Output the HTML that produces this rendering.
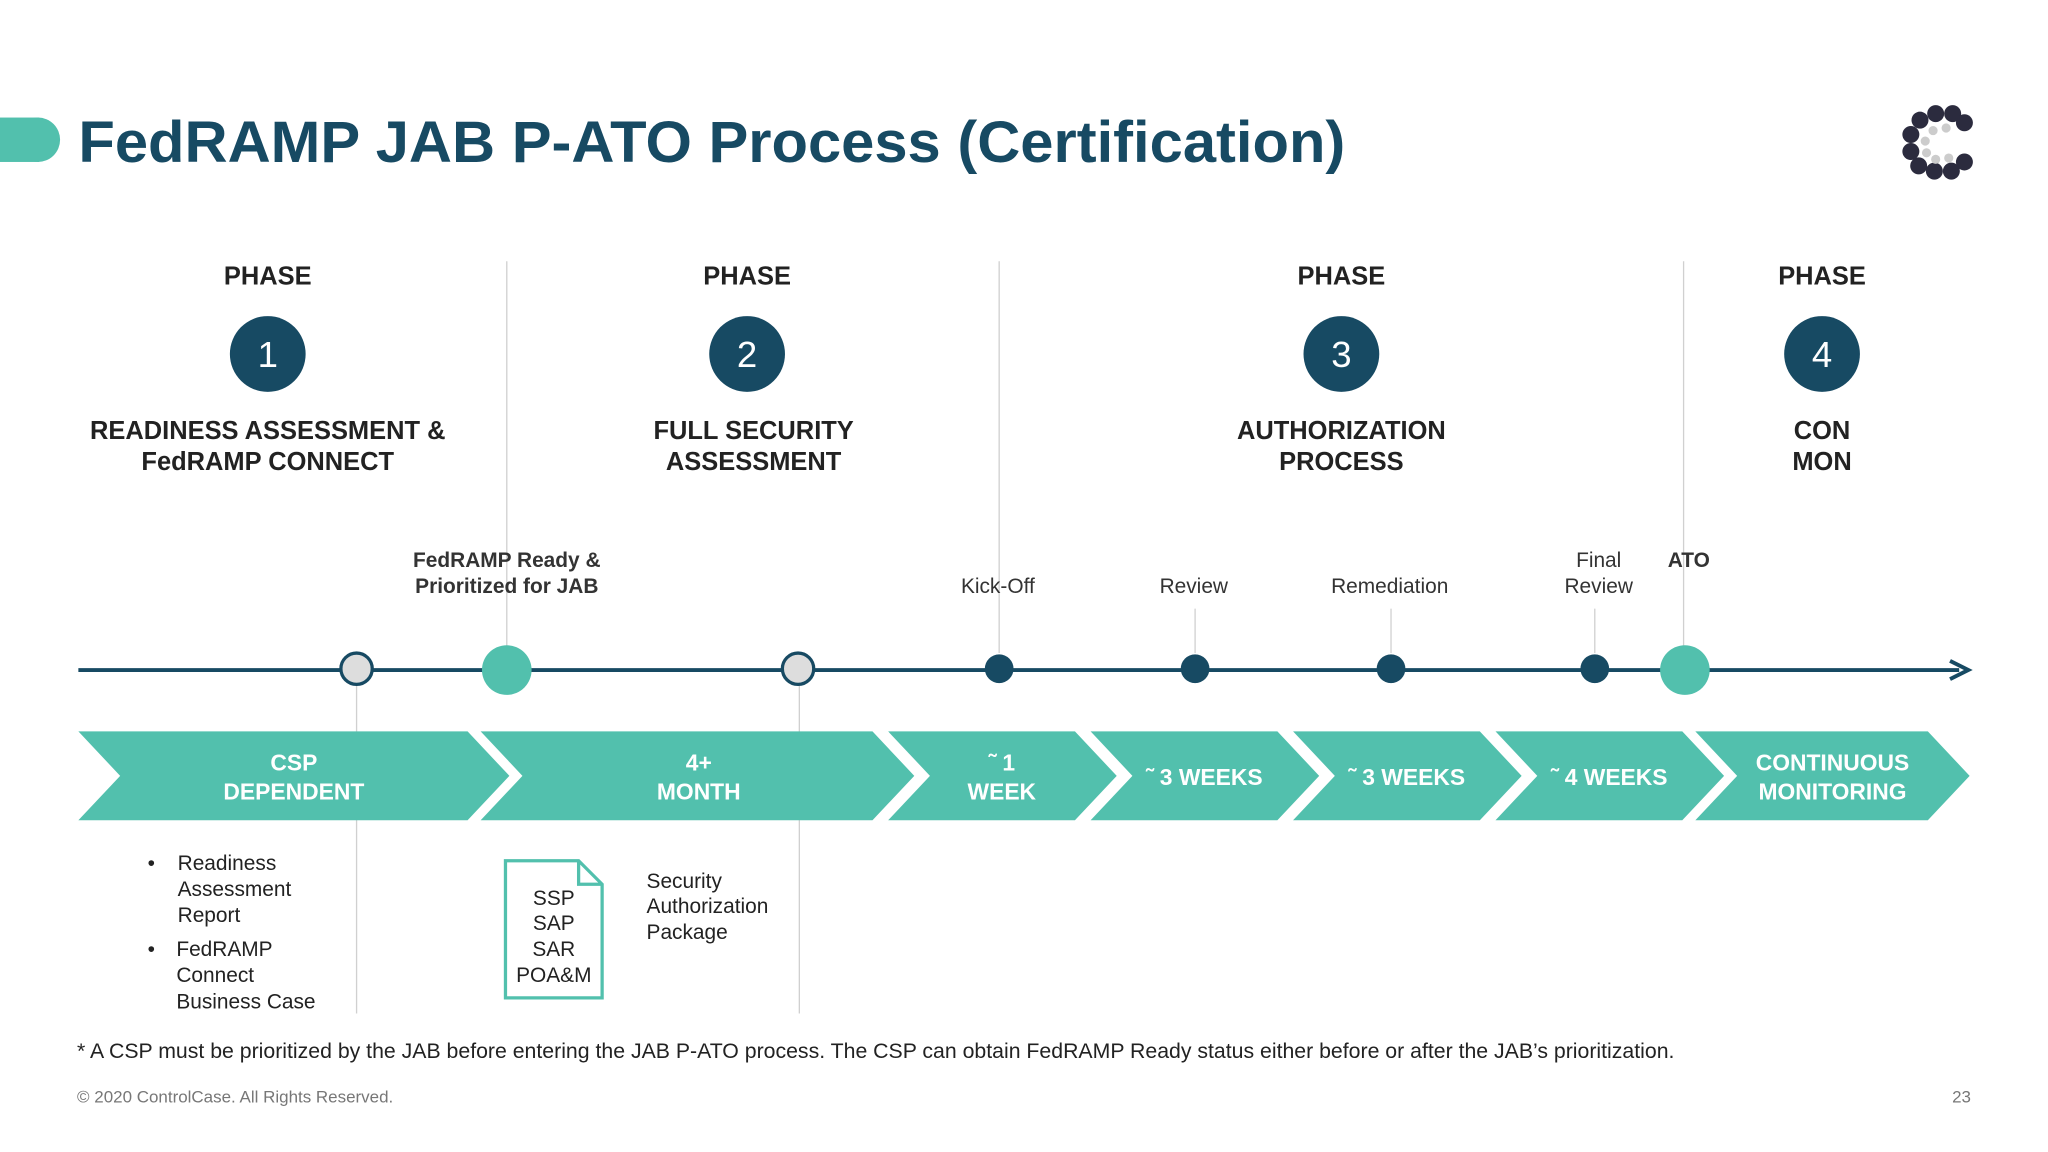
<!DOCTYPE html>
<html><head><meta charset="utf-8"><style>
html,body{margin:0;padding:0;background:#fff;width:2048px;height:1152px;overflow:hidden}
svg{display:block}
text{font-family:"Liberation Sans",Arial,sans-serif}
</style></head><body>
<svg width="2048" height="1152" viewBox="0 0 1568 882" xmlns="http://www.w3.org/2000/svg">
<rect x="0" y="90" width="30" height="34" fill="#52c0ad"/>
<circle cx="29" cy="107" r="17" fill="#52c0ad"/>
<text x="60" y="124" font-size="45" font-weight="bold" fill="#174a63" textLength="970" lengthAdjust="spacingAndGlyphs">FedRAMP JAB P-ATO Process (Certification)</text>
<g fill="#2b2b3e">
<circle cx="1482" cy="87" r="6.5"/><circle cx="1495" cy="87" r="6.5"/><circle cx="1470" cy="92" r="6.5"/><circle cx="1504" cy="94" r="6.5"/>
<circle cx="1463" cy="103" r="6.5"/><circle cx="1463" cy="116" r="6.5"/><circle cx="1469" cy="127" r="6.5"/>
<circle cx="1481" cy="131" r="6.5"/><circle cx="1494" cy="131" r="6.5"/><circle cx="1504" cy="124" r="6.5"/>
</g>
<g fill="#ccc"><circle cx="1480" cy="100" r="3.5"/><circle cx="1490" cy="98" r="3.5"/><circle cx="1474" cy="108" r="3.5"/><circle cx="1475" cy="117" r="3.5"/><circle cx="1482" cy="122" r="3.5"/><circle cx="1492" cy="121" r="3.5"/></g>
<g stroke="#d0d0d0" stroke-width="1">
<line x1="388" y1="200" x2="388" y2="495"/><line x1="765" y1="200" x2="765" y2="500"/><line x1="1289" y1="200" x2="1289" y2="495"/>
<line x1="915" y1="466" x2="915" y2="500"/><line x1="1065" y1="466" x2="1065" y2="500"/><line x1="1221" y1="466" x2="1221" y2="500"/>
<line x1="273" y1="524" x2="273" y2="776"/><line x1="612" y1="524" x2="612" y2="776"/>
</g>
<g font-size="19.5" font-weight="bold" fill="#222" text-anchor="middle">
<text x="205" y="218">PHASE</text><text x="572" y="218">PHASE</text><text x="1027" y="218">PHASE</text><text x="1395" y="218">PHASE</text>
<text x="205" y="336">READINESS ASSESSMENT &amp;</text><text x="205" y="360">FedRAMP CONNECT</text>
<text x="577" y="336">FULL SECURITY</text><text x="577" y="360">ASSESSMENT</text>
<text x="1027" y="336">AUTHORIZATION</text><text x="1027" y="360">PROCESS</text>
<text x="1395" y="336">CON</text><text x="1395" y="360">MON</text>
</g>
<g fill="#174a63"><circle cx="205" cy="271" r="29"/><circle cx="572" cy="271" r="29"/><circle cx="1027" cy="271" r="29"/><circle cx="1395" cy="271" r="29"/></g>
<g font-size="28" fill="#fff" text-anchor="middle"><text x="205" y="281">1</text><text x="572" y="281">2</text><text x="1027" y="281">3</text><text x="1395" y="281">4</text></g>
<g font-size="16" fill="#333" text-anchor="middle">
<text x="388" y="434" font-weight="bold">FedRAMP Ready &amp;</text><text x="388" y="454" font-weight="bold">Prioritized for JAB</text>
<text x="764" y="454">Kick-Off</text><text x="914" y="454">Review</text><text x="1064" y="454">Remediation</text>
<text x="1224" y="434">Final</text><text x="1224" y="454">Review</text>
<text x="1293" y="434" font-weight="bold">ATO</text>
</g>
<line x1="60" y1="513" x2="1500" y2="513" stroke="#174a63" stroke-width="3"/>
<path d="M1493 506 L1507 513 L1493 520" fill="none" stroke="#174a63" stroke-width="3"/>
<g stroke="#174a63" stroke-width="2.5" fill="#ddd"><circle cx="273" cy="512" r="12"/><circle cx="611" cy="512" r="12"/></g>
<g fill="#52c0ad"><circle cx="388" cy="513" r="19"/><circle cx="1290" cy="513" r="19"/></g>
<g fill="#174a63"><circle cx="765" cy="512" r="11"/><circle cx="915" cy="512" r="11"/><circle cx="1065" cy="512" r="11"/><circle cx="1221" cy="512" r="11"/></g>
<g fill="#52c0ad">
<polygon points="60,560 358,560 390,594 358,628 60,628 92,594"/>
<polygon points="368,560 668,560 700,594 668,628 368,628 400,594"/>
<polygon points="680,560 823,560 855,594 823,628 680,628 712,594"/>
<polygon points="835,560 978,560 1010,594 978,628 835,628 867,594"/>
<polygon points="990,560 1133,560 1165,594 1133,628 990,628 1022,594"/>
<polygon points="1145,560 1288,560 1320,594 1288,628 1145,628 1177,594"/>
<polygon points="1298,560 1476,560 1508,594 1476,628 1298,628 1330,594"/>
</g>
<g font-size="17.5" font-weight="bold" fill="#fff" text-anchor="middle">
<text x="225" y="590">CSP</text><text x="225" y="612">DEPENDENT</text>
<text x="535" y="590">4+</text><text x="535" y="612">MONTH</text>
<text x="767" y="590">˜ 1</text><text x="767" y="612">WEEK</text>
<text x="922" y="601">˜ 3 WEEKS</text><text x="1077" y="601">˜ 3 WEEKS</text><text x="1232" y="601">˜ 4 WEEKS</text>
<text x="1403" y="590">CONTINUOUS</text><text x="1403" y="612">MONITORING</text>
</g>
<g font-size="16" fill="#222">
<text x="113" y="666">•</text><text x="136" y="666">Readiness</text><text x="136" y="686">Assessment</text><text x="136" y="706">Report</text>
<text x="113" y="732">•</text><text x="135" y="732">FedRAMP</text><text x="135" y="752">Connect</text><text x="135" y="772">Business Case</text>
<text x="495" y="680">Security</text><text x="495" y="699">Authorization</text><text x="495" y="719">Package</text>
</g>
<path d="M387 659 L443 659 L461 677 L461 764 L387 764 Z M443 659 L443 677 L461 677" fill="#fff" stroke="#52c0ad" stroke-width="2.5"/>
<g font-size="16" fill="#222" text-anchor="middle"><text x="424" y="693">SSP</text><text x="424" y="712">SAP</text><text x="424" y="732">SAR</text><text x="424" y="752">POA&amp;M</text></g>
<text x="59" y="810" font-size="16" fill="#222" textLength="1223" lengthAdjust="spacingAndGlyphs">* A CSP must be prioritized by the JAB before entering the JAB P-ATO process. The CSP can obtain FedRAMP Ready status either before or after the JAB’s prioritization.</text>
<text x="59" y="844" font-size="13" fill="#777">© 2020 ControlCase. All Rights Reserved.</text>
<text x="1509" y="844" font-size="13" fill="#777" text-anchor="end">23</text>
</svg>
</body></html>
